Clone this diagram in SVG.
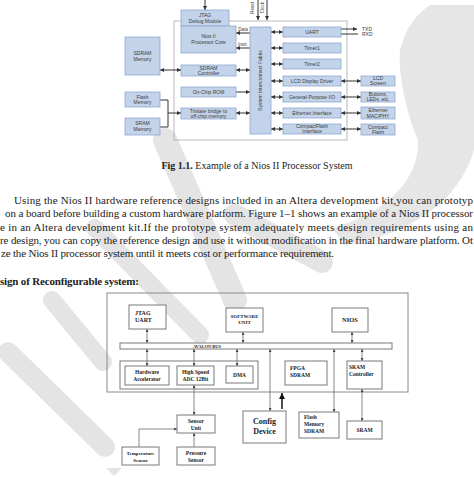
<svg xmlns="http://www.w3.org/2000/svg" width="474" height="477" viewBox="0 0 474 477">
<defs>
<style>
.wm{fill:none;stroke:#e4e4e4;stroke-linecap:round}
.bb{fill:#c3d4ea;stroke:#8ea9d0;stroke-width:0.8}
.ob{fill:none;stroke:#a8a8a8;stroke-width:0.8}
.tt{font-family:"Liberation Sans",Arial,sans-serif;font-size:5px;fill:#3a3a3a;text-anchor:middle}
.ta{stroke:#333;stroke-width:1;fill:none}
.wb{fill:#fff;stroke:#7a7a7a;stroke-width:1}
.bt{font-family:"Liberation Serif","Times New Roman",serif;font-weight:bold;font-size:5.5px;fill:#222;text-anchor:middle}
.bl{font-family:"Liberation Serif","Times New Roman",serif;font-weight:bold;font-size:5.5px;fill:#222}
.bc{stroke:#6a6a6a;stroke-width:0.8;fill:none}
.pt{font-family:"Liberation Serif","Times New Roman",serif;font-size:11px;fill:#222}
</style>
<marker id="ah" viewBox="0 0 6 6" refX="6" refY="3" markerWidth="4" markerHeight="4" markerUnits="userSpaceOnUse" orient="auto-start-reverse"><path d="M0,0 L6,3 L0,6 z" fill="#333"/></marker>
<marker id="sa" viewBox="0 0 6 6" refX="6" refY="3" markerWidth="3" markerHeight="3" markerUnits="userSpaceOnUse" orient="auto-start-reverse"><path d="M0,0 L6,3 L0,6 z" fill="#444"/></marker>
<marker id="ba" viewBox="0 0 6 6" refX="6" refY="3" markerWidth="6" markerHeight="6" markerUnits="userSpaceOnUse" orient="auto-start-reverse"><path d="M0,0 L6,3 L0,6 z" fill="#111"/></marker>
</defs>
<rect width="474" height="477" fill="#fff"/>

<g id="watermark">
<path d="M430 5 L474 5 L474 150 C460 200 410 235 345 245 L332 228 C385 214 420 180 418 140 C405 110 398 70 400 50 C405 30 415 15 430 5 Z" fill="#e6e6e6"/>
<path class="wm" d="M165 140 L235 300" stroke-width="24"/>
<path class="wm" d="M235 215 L322 262" stroke-width="22"/>
<path class="wm" d="M95 228 L200 335" stroke-width="18"/>
<path class="wm" d="M52 300 L103 362" stroke-width="18"/>
<path class="wm" d="M8 352 L105 447" stroke-width="20"/>
<path d="M106 468 L122 468 L114 476 Z" fill="#e4e4e4"/>
</g>

<g id="fig1">
<rect class="ob" x="174" y="21" width="173" height="119"/>
<g id="connectors-top">
<line class="ta" x1="205" y1="0" x2="205" y2="10" stroke-width="1.4" marker-end="url(#ah)"/>
<line class="ta" x1="258" y1="0" x2="258" y2="20" marker-end="url(#ah)"/>
<line class="ta" x1="267" y1="0" x2="267" y2="20" marker-end="url(#ah)"/>
<line class="ta" x1="250" y1="33" x2="236" y2="33" marker-end="url(#ah)"/>
<line class="ta" x1="250" y1="48" x2="236" y2="48" marker-end="url(#ah)"/>
<line class="ta" x1="160" y1="70" x2="181" y2="70" marker-start="url(#ah)" marker-end="url(#ah)"/>
<line class="ta" x1="236" y1="70" x2="250" y2="70" marker-start="url(#ah)" marker-end="url(#ah)"/>
<line class="ta" x1="236" y1="92" x2="250" y2="92" marker-end="url(#ah)"/>
<line class="ta" x1="236" y1="113" x2="250" y2="113" marker-start="url(#ah)" marker-end="url(#ah)"/>
<polyline class="ta" points="160,100 168,100 168,127 160,127"/>
<line class="ta" x1="168" y1="113" x2="181" y2="113" marker-end="url(#ah)"/>
<line class="ta" x1="271" y1="32" x2="283" y2="32" marker-start="url(#ah)" marker-end="url(#ah)"/>
<line class="ta" x1="271" y1="48" x2="283" y2="48" marker-start="url(#ah)" marker-end="url(#ah)"/>
<line class="ta" x1="271" y1="64" x2="283" y2="64" marker-start="url(#ah)" marker-end="url(#ah)"/>
<line class="ta" x1="271" y1="81" x2="283" y2="81" marker-start="url(#ah)" marker-end="url(#ah)"/>
<line class="ta" x1="271" y1="97" x2="283" y2="97" marker-start="url(#ah)" marker-end="url(#ah)"/>
<line class="ta" x1="271" y1="113" x2="283" y2="113" marker-start="url(#ah)" marker-end="url(#ah)"/>
<line class="ta" x1="271" y1="129" x2="283" y2="129" marker-start="url(#ah)" marker-end="url(#ah)"/>
<line class="ta" x1="341" y1="81" x2="361" y2="81" marker-start="url(#ah)" marker-end="url(#ah)"/>
<line class="ta" x1="341" y1="97" x2="361" y2="97" marker-start="url(#ah)" marker-end="url(#ah)"/>
<line class="ta" x1="341" y1="113" x2="361" y2="113" marker-start="url(#ah)" marker-end="url(#ah)"/>
<line class="ta" x1="341" y1="129" x2="361" y2="129" marker-start="url(#ah)" marker-end="url(#ah)"/>
<line class="ta" x1="341" y1="29" x2="357" y2="29" stroke-width="0.7" marker-end="url(#ah)"/>
<line class="ta" x1="358" y1="34" x2="341" y2="34" stroke-width="0.7"/>
</g>
<text class="tt" x="254" y="2" transform="rotate(-90 254 2)" style="text-anchor:end;font-size:4.5px">Reset</text>
<text class="tt" x="264" y="2" transform="rotate(-90 264 2)" style="text-anchor:end;font-size:4.5px">Clock</text>
<text class="tt" x="243" y="31" style="font-size:4.5px">Data</text>
<text class="tt" x="243" y="46" style="font-size:4.5px">Instr.</text>
<text class="tt" x="362" y="31" style="text-anchor:start">TXD</text>
<text class="tt" x="362" y="36" style="text-anchor:start">RXD</text>

<g id="jtag-debug"><rect class="bb" x="181" y="10" width="48" height="16"/><text class="tt" x="205" y="16.5">JTAG</text><text class="tt" x="205" y="22.5">Debug Module</text></g>
<g id="nios-core"><rect class="bb" x="181" y="26" width="55" height="27"/><text class="tt" x="208.5" y="38">Nios II</text><text class="tt" x="208.5" y="44">Processor Core</text></g>
<g id="sdram-memory"><rect class="bb" x="125" y="37" width="35" height="38"/><text class="tt" x="142.5" y="54.5">SDRAM</text><text class="tt" x="142.5" y="60.5">Memory</text></g>
<g id="sdram-ctrl"><rect class="bb" x="181" y="65" width="55" height="11"/><text class="tt" x="208.5" y="69.5">SDRAM</text><text class="tt" x="208.5" y="75">Controller</text></g>
<g id="onchip-rom"><rect class="bb" x="181" y="87" width="55" height="10"/><text class="tt" x="208.5" y="94">On-Chip ROM</text></g>
<g id="flash-memory"><rect class="bb" x="125" y="92" width="35" height="15"/><text class="tt" x="142.5" y="98.5">Flash</text><text class="tt" x="142.5" y="104">Memory</text></g>
<g id="sram-memory"><rect class="bb" x="125" y="118" width="35" height="17"/><text class="tt" x="142.5" y="125">SRAM</text><text class="tt" x="142.5" y="131">Memory</text></g>
<g id="tristate"><rect class="bb" x="181" y="108" width="55" height="11"/><text class="tt" x="208.5" y="112.5">Tristate bridge to</text><text class="tt" x="208.5" y="118">off-chip memory</text></g>
<g id="fabric"><rect class="bb" x="250" y="27" width="21" height="107"/><text class="tt" x="260.5" y="80.5" transform="rotate(-90 260.5 80.5)" dy="1.7">System Interconnect Fabric</text></g>
<g id="uart"><rect class="bb" x="283" y="27" width="58" height="10"/><text class="tt" x="312" y="34">UART</text></g>
<g id="timer1"><rect class="bb" x="283" y="43" width="58" height="10"/><text class="tt" x="312" y="50">Timer1</text></g>
<g id="timer2"><rect class="bb" x="283" y="59" width="58" height="10"/><text class="tt" x="312" y="66">Timer2</text></g>
<g id="lcd-driver"><rect class="bb" x="283" y="76" width="58" height="10"/><text class="tt" x="312" y="83">LCD Display Driver</text></g>
<g id="gpio"><rect class="bb" x="283" y="92" width="58" height="10"/><text class="tt" x="312" y="99">General-Purpose I/O</text></g>
<g id="ethernet-if"><rect class="bb" x="283" y="108" width="58" height="10"/><text class="tt" x="312" y="115">Ethernet Interface</text></g>
<g id="cf-if"><rect class="bb" x="283" y="124" width="58" height="10"/><text class="tt" x="312" y="128">CompactFlash</text><text class="tt" x="312" y="133">Interface</text></g>
<g id="lcd-screen"><rect class="bb" x="361" y="76" width="34" height="10"/><text class="tt" x="378" y="80">LCD</text><text class="tt" x="378" y="85">Screen</text></g>
<g id="buttons"><rect class="bb" x="361" y="92" width="34" height="10"/><text class="tt" x="378" y="96">Buttons,</text><text class="tt" x="378" y="101">LEDs, etc.</text></g>
<g id="eth-mac"><rect class="bb" x="361" y="107" width="34" height="12"/><text class="tt" x="378" y="112">Ethernet</text><text class="tt" x="378" y="117.5">MAC/PHY</text></g>
<g id="cf-card"><rect class="bb" x="361" y="124" width="34" height="11"/><text class="tt" x="378" y="128.5">Compact</text><text class="tt" x="378" y="134">Flash</text></g>
</g>

<text class="pt" x="257" y="169" text-anchor="middle" style="font-size:10px"><tspan font-weight="bold">Fig 1.1.</tspan> Example of a Nios II Processor System</text>
<text class="pt" x="14" y="204" textLength="459" lengthAdjust="spacing">Using the Nios II hardware reference designs included in an Altera development kit,you can prototyp</text>
<text class="pt" x="5" y="217" textLength="468" lengthAdjust="spacing">on a board before building a custom hardware platform. Figure 1–1 shows an example of a Nios II processor</text>
<text class="pt" x="0" y="231" textLength="473" lengthAdjust="spacing">e in an Altera development kit.If the prototype system adequately meets design requirements using an</text>
<text class="pt" x="0" y="244" textLength="473" lengthAdjust="spacing">re design, you can copy the reference design and use it without modification in the final hardware platform. Ot</text>
<text class="pt" x="1" y="257" textLength="333" lengthAdjust="spacing">ze the Nios II processor system until it meets cost or performance requirement.</text>
<text class="pt" x="0" y="285" font-weight="bold" textLength="139" lengthAdjust="spacing">sign of Reconfigurable system:</text>

<g id="fig2">
<rect x="107" y="293" width="301" height="99" fill="none" stroke="#8a8a8a" stroke-width="1"/>
<rect x="120" y="361" width="138" height="28" fill="none" stroke="#7a7a7a" stroke-width="1"/>
<g id="connectors-bottom">
<line class="bc" x1="147" y1="329" x2="147" y2="343" marker-start="url(#sa)" marker-end="url(#sa)"/>
<line class="bc" x1="243" y1="332" x2="243" y2="343" marker-start="url(#sa)" marker-end="url(#sa)"/>
<line class="bc" x1="352" y1="332" x2="352" y2="343" marker-start="url(#sa)" marker-end="url(#sa)"/>
<line class="bc" x1="147" y1="349" x2="147" y2="366" marker-start="url(#sa)" marker-end="url(#sa)"/>
<line class="bc" x1="194" y1="349" x2="194" y2="366" marker-start="url(#sa)" marker-end="url(#sa)"/>
<line class="bc" x1="237" y1="349" x2="237" y2="366" marker-start="url(#sa)" marker-end="url(#sa)"/>
<line class="bc" x1="270" y1="349" x2="270" y2="411" marker-start="url(#sa)" marker-end="url(#sa)"/>
<line class="bc" x1="334" y1="349" x2="334" y2="412" marker-start="url(#sa)" marker-end="url(#sa)"/>
<line class="bc" x1="362" y1="349" x2="362" y2="361" marker-start="url(#sa)" marker-end="url(#sa)"/>
<line class="bc" x1="362" y1="389" x2="362" y2="421" marker-start="url(#sa)" marker-end="url(#sa)"/>
<line class="bc" x1="194" y1="385" x2="194" y2="415" marker-start="url(#sa)" marker-end="url(#sa)"/>
<line class="bc" x1="194" y1="447" x2="194" y2="433" marker-end="url(#sa)"/>
<polyline class="bc" points="139,447 139,429 177,429" marker-end="url(#sa)"/>
<line x1="282" y1="409" x2="282" y2="393" stroke="#111" stroke-width="1.5" marker-end="url(#ba)"/>
</g>
<g id="jtag-uart"><rect class="wb" x="129" y="305" width="37" height="24"/><text class="bl" x="135" y="315" style="font-size:6px">JTAG</text><text class="bl" x="135" y="322" style="font-size:6px">UART</text></g>
<g id="software-unit"><rect class="wb" x="226" y="308" width="37" height="24"/><text class="bt" x="244.5" y="318" style="font-size:5px">SOFTWARE</text><text class="bt" x="244.5" y="324" style="font-size:5px">UNIT</text></g>
<g id="nios"><rect class="wb" x="332" y="308" width="36" height="24"/><text class="bt" x="350" y="322" style="font-size:6.5px">NIOS</text></g>
<g id="avalon-bus"><rect class="wb" x="120" y="343" width="272" height="6" stroke-width="0.8"/><text class="bt" x="207" y="347.8" style="font-size:4.5px">AVALON BUS</text></g>
<g id="hw-accel"><rect class="wb" x="125" y="366" width="44" height="19"/><text class="bt" x="147" y="374">Hardware</text><text class="bt" x="147" y="381">Accelerator</text></g>
<g id="adc"><rect class="wb" x="177" y="366" width="37" height="19"/><text class="bt" x="195.5" y="374">High Speed</text><text class="bt" x="195.5" y="381">ADC 12Bit</text></g>
<g id="dma"><rect class="wb" x="226" y="366" width="27" height="17"/><text class="bt" x="239.5" y="377">DMA</text></g>
<g id="fpga-sdram"><rect class="wb" x="285" y="361" width="42" height="24"/><text class="bl" x="290" y="370">FPGA</text><text class="bl" x="290" y="377">SDRAM</text></g>
<g id="sram-ctrl"><rect class="wb" x="347" y="361" width="35" height="28"/><text class="bl" x="349" y="369">SRAM</text><text class="bl" x="349" y="376">Controller</text></g>
<g id="config-device"><rect class="wb" x="243" y="411" width="43" height="32"/><text class="bt" x="264.5" y="424" style="font-size:8px">Config</text><text class="bt" x="264.5" y="434" style="font-size:8px">Device</text></g>
<g id="flash-sdram"><rect class="wb" x="299" y="412" width="40" height="26"/><text class="bl" x="304" y="419">Flash</text><text class="bl" x="304" y="426">Memory</text><text class="bl" x="304" y="433">SDRAM</text></g>
<g id="sram"><rect class="wb" x="347" y="421" width="35" height="18"/><text class="bt" x="364.5" y="432">SRAM</text></g>
<g id="sensor-unit"><rect class="wb" x="177" y="415" width="38" height="18"/><text class="bt" x="196" y="422.5">Sensor</text><text class="bt" x="196" y="429.5">Unit</text></g>
<g id="temp-sensor"><rect class="wb" x="122" y="447" width="37" height="18"/><text class="bt" x="140.5" y="454.5" style="font-size:5px">Temperature</text><text class="bt" x="140.5" y="461.5" style="font-size:5px">Sensor</text></g>
<g id="pressure-sensor"><rect class="wb" x="177" y="447" width="38" height="18"/><text class="bt" x="196" y="454.5">Pressure</text><text class="bt" x="196" y="461.5">Sensor</text></g>
</g>
</svg>
